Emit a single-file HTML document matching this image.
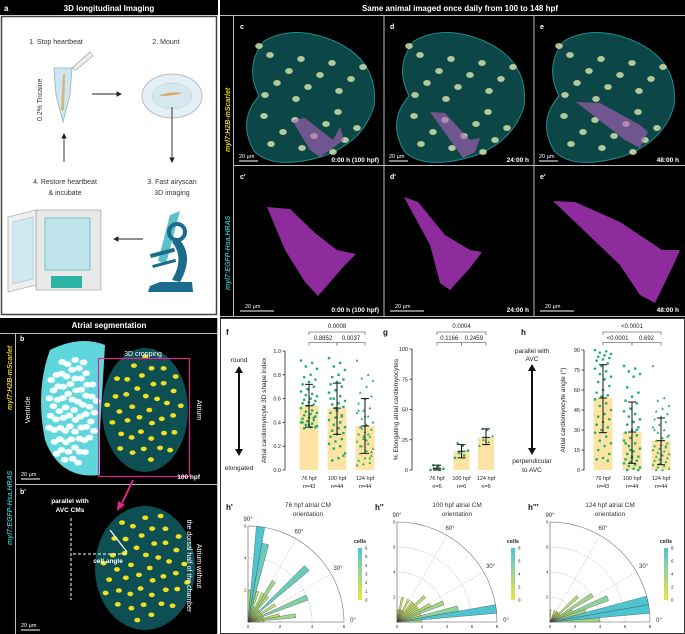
<!DOCTYPE html>
<html><head><meta charset="utf-8">
<style>
html,body{margin:0;padding:0;background:#fff;}
svg{display:block;font-family:"Liberation Sans",sans-serif;}
</style></head>
<body>
<svg id="fig" width="685" height="634" viewBox="0 0 685 634" xmlns="http://www.w3.org/2000/svg">
<rect x="0" y="0" width="685" height="634" fill="#fff"/>
<g>
<rect x="0" y="0" width="218" height="15" fill="#000"/>
<text x="4" y="11" fill="#fff" font-size="8" font-weight="bold">a</text>
<text x="109" y="11" fill="#fff" font-size="8" font-weight="bold" text-anchor="middle">3D longitudinal Imaging</text>
<rect x="1.5" y="16.5" width="215" height="298" fill="#fff" stroke="#444" stroke-width="1.5"/>
<text x="56" y="44" font-size="7" text-anchor="middle" fill="#333">1. Stop heartbeat</text>
<text x="166" y="44" font-size="7" text-anchor="middle" fill="#333">2. Mount</text>
<text x="65" y="184" font-size="7" text-anchor="middle" fill="#333">4. Restore heartbeat</text>
<text x="65" y="195" font-size="7" text-anchor="middle" fill="#333">&amp; incubate</text>
<text x="172" y="184" font-size="7" text-anchor="middle" fill="#333">3. Fast airyscan</text>
<text x="172" y="195" font-size="7" text-anchor="middle" fill="#333">3D imaging</text>
<text transform="translate(42,121) rotate(-90)" font-size="7" fill="#333">0.2% Tricaine</text>
<path d="M54,68 L72,68 L70,95 L63,122 L56,95 Z" fill="#cfe6f2" stroke="#8bb" stroke-width="0.8"/>
<path d="M72,68 L90,52 L93,56 L76,70 Z" fill="#eee" stroke="#999" stroke-width="0.6"/>
<path d="M63,74 L65,74 L64,110 L61,110 Z" fill="#d9b27a"/>
<ellipse cx="172" cy="96" rx="30" ry="22" fill="#e4eff5" stroke="#aab" stroke-width="0.8"/>
<ellipse cx="172" cy="96" rx="20" ry="13" fill="#d6e7ef" stroke="#bcc" stroke-width="0.5"/>
<path d="M160,95 Q172,91 183,93 Q172,96 160,96 Z" fill="#d9a86a"/>
<g stroke="#222" stroke-width="0.9" fill="#222">
<line x1="92" y1="94" x2="118" y2="94"/><path d="M121,94 l-4,-2 v4z"/>
<line x1="172" y1="107" x2="172" y2="159"/><path d="M172,162 l-2,-4 h4z"/>
<line x1="143" y1="239" x2="117" y2="239"/><path d="M114,239 l4,-2 v4z"/>
<line x1="64" y1="162" x2="64" y2="137"/><path d="M64,134 l-2,4 h4z"/>
</g>
<g>
<rect x="36" y="210" width="65" height="80" fill="#e8e8e8" stroke="#999" stroke-width="0.6"/>
<rect x="45" y="218" width="45" height="52" fill="#bfe3ea" stroke="#5bb" stroke-width="0.8"/>
<rect x="51" y="276" width="31" height="12" fill="#2bb3a3"/>
<path d="M8,217 L36,210 L36,285 L8,292 Z" fill="#eee" stroke="#999" stroke-width="0.6"/>
<path d="M13,222 L33,217 L33,279 L13,284 Z" fill="#cfe8f2" stroke="#9bc" stroke-width="0.5"/>
</g>
<g fill="#1b6b8c">
<path d="M170,215 L180,211 L166,264 L158,261 Z" fill="#5bc0c8"/>
<circle cx="177" cy="232" r="8" fill="none" stroke="#1b6b8c" stroke-width="4"/>
<path d="M178,238 Q195,255 180,282 L172,280 Q185,258 172,242 Z"/>
<rect x="150" y="251" width="25" height="4" transform="rotate(-15 162 253)"/>
<rect x="152" y="262" width="24" height="3" transform="rotate(-15 164 263)"/>
<path d="M160,282 L192,282 L193,292 L148,292 L150,286 Z"/>
</g>
</g>
<g>
<rect x="220" y="0" width="465" height="318" fill="#000"/>
<text x="460" y="11" fill="#fff" font-size="8" font-weight="bold" text-anchor="middle">Same animal imaged once daily from 100 to 148 hpf</text>
<g id="hearts"></g>
<line x1="220" y1="15.5" x2="685" y2="15.5" stroke="#bbb" stroke-width="1"/>
<line x1="233.5" y1="16" x2="233.5" y2="316" stroke="#bbb" stroke-width="1"/>
<line x1="384" y1="16" x2="384" y2="316" stroke="#bbb" stroke-width="1"/>
<line x1="534" y1="16" x2="534" y2="316" stroke="#bbb" stroke-width="1"/>
<line x1="234" y1="165.5" x2="685" y2="165.5" stroke="#bbb" stroke-width="1"/>
<line x1="220" y1="316.5" x2="685" y2="316.5" stroke="#bbb" stroke-width="1"/>
<text transform="translate(230,152) rotate(-90)" font-size="7" font-style="italic" font-weight="bold" fill="#e8d020">myl7:H2B-mScarlet</text>
<text transform="translate(230,290) rotate(-90)" font-size="7" font-style="italic" font-weight="bold" fill="#25b8b8">myl7:EGFP-Hsa.HRAS</text>
</g>
<g>
<rect x="0" y="318" width="218" height="316" fill="#000"/>
<text x="109" y="328" fill="#fff" font-size="8" font-weight="bold" text-anchor="middle">Atrial segmentation</text>
<line x1="0" y1="333.5" x2="218" y2="333.5" stroke="#bbb"/>
<line x1="15.5" y1="334" x2="15.5" y2="634" stroke="#bbb"/>
<line x1="16" y1="484.5" x2="218" y2="484.5" stroke="#bbb"/>
<line x1="217.5" y1="318" x2="217.5" y2="634" stroke="#bbb"/>
<text transform="translate(12,410) rotate(-90)" font-size="7" font-style="italic" font-weight="bold" fill="#e8d020">myl7:H2B-mScarlet</text>
<text transform="translate(12,545) rotate(-90)" font-size="7" font-style="italic" font-weight="bold" fill="#25b8b8">myl7:EGFP-Hsa.HRAS</text>
<path d="M50,350 Q80,335 105,345 L100,430 L100,475 Q60,480 45,440 Q35,390 50,350 Z" fill="#5fd6dc"/>
<ellipse cx="145" cy="410" rx="43" ry="62" fill="#0d4f52"/>
<g id="vdots"></g>
<g id="bdots"></g>
<rect x="98.5" y="358.5" width="91" height="118" fill="none" stroke="#e0248c" stroke-width="1.2"/>
<text x="143" y="356" fill="#fff" font-size="7" text-anchor="middle">3D cropping</text>
<text transform="translate(30,410) rotate(-90)" fill="#fff" font-size="7" text-anchor="middle">Ventricle</text>
<text transform="translate(197,410) rotate(90)" fill="#fff" font-size="7" text-anchor="middle">Atrium</text>
<text x="200" y="479" fill="#fff" font-size="6.5" font-weight="bold" text-anchor="end">100 hpf</text>
<text x="20" y="341" fill="#fff" font-size="7" font-weight="bold">b</text>
<text x="20" y="494" fill="#fff" font-size="7" font-weight="bold">b'</text>
<text x="21" y="476" fill="#fff" font-size="5.5">20 µm</text><line x1="21" y1="479" x2="40" y2="479" stroke="#fff" stroke-width="1"/>
<text x="21" y="627" fill="#fff" font-size="5.5">20 µm</text><line x1="21" y1="630" x2="40" y2="630" stroke="#fff" stroke-width="1"/>
<line x1="133" y1="480" x2="122" y2="503" stroke="#e0248c" stroke-width="2"/><path d="M117,511 l1,-10 l7,4z" fill="#e0248c"/>
<ellipse cx="145" cy="568" rx="50" ry="62" fill="#0d4f52"/>
<g id="bpdots"></g>
<text x="70" y="503" fill="#fff" font-size="6.5" font-weight="bold" text-anchor="middle">parallel with</text>
<text x="70" y="512" fill="#fff" font-size="6.5" font-weight="bold" text-anchor="middle">AVC CMs</text>
<line x1="71" y1="518" x2="71" y2="600" stroke="#fff" stroke-dasharray="3,2"/>
<line x1="73" y1="554" x2="127" y2="554" stroke="#fff" stroke-dasharray="3,2"/>
<line x1="110" y1="530" x2="127" y2="552" stroke="#fff" stroke-width="1.2"/>
<text x="108" y="563" fill="#fff" font-size="6.5" font-weight="bold" text-anchor="middle">cell angle</text>
<text transform="translate(197,566) rotate(90)" fill="#fff" font-size="7" text-anchor="middle">Atrium without</text>
<text transform="translate(187,566) rotate(90)" fill="#fff" font-size="7" text-anchor="middle">the dorsal half of the chamber</text>
</g>
<g>
<rect x="220.5" y="318.5" width="464" height="315" fill="#fff" stroke="#333" stroke-width="1"/>
<g id="charts"></g>
</g>
</svg>
<script>
const groups = ["76 hpf","100 hpf","124 hpf"];
const nLabelsF = ["n=43","n=44","n=44"];
const nLabelsG = ["n=6","n=6","n=6"];
const fMeans = [0.54,0.52,0.37];
const fSdHi = [0.72,0.73,0.60];
const fSdLo = [0.36,0.30,0.14];
const f76 = [0.92,0.9,0.87,0.85,0.8,0.78,0.76,0.74,0.72,0.7,0.68,0.66,0.64,0.63,0.62,0.6,0.59,0.58,0.57,0.56,0.55,0.54,0.52,0.5,0.49,0.48,0.47,0.46,0.45,0.44,0.43,0.42,0.41,0.4,0.39,0.38,0.37,0.36,0.35,0.36,0.38,0.4,0.44];
const f100 = [0.94,0.9,0.87,0.84,0.8,0.78,0.76,0.74,0.72,0.7,0.67,0.65,0.62,0.6,0.58,0.56,0.55,0.53,0.5,0.48,0.46,0.44,0.42,0.4,0.38,0.36,0.35,0.33,0.31,0.3,0.28,0.26,0.24,0.22,0.2,0.18,0.14,0.1,0.08,0.12,0.5,0.6,0.45,0.52];
const f124 = [0.92,0.8,0.77,0.75,0.7,0.65,0.62,0.6,0.56,0.52,0.5,0.48,0.45,0.43,0.4,0.38,0.36,0.34,0.32,0.3,0.28,0.26,0.24,0.22,0.2,0.18,0.16,0.14,0.12,0.1,0.08,0.06,0.05,0.04,0.3,0.35,0.4,0.25,0.2,0.15,0.45,0.5,0.1,0.28];
const gMeans = [1.5,15.5,27];
const gSdHi = [4,21,34];
const gSdLo = [0,10,21];
const g76 = [0,0,1,1,3,4];
const g100 = [10,12,14,16,20,22];
const g124 = [20,23,25,28,33,34];
const hMeans = [54,28.5,22];
const hSdHi = [79,51,39];
const hSdLo = [28,5,4];
const h76 = [90,89,88,87,86,85,84,83,82,80,78,76,74,72,70,68,66,63,60,58,56,55,53,50,48,45,42,40,38,36,34,32,30,28,25,22,20,18,15,12,9,8,7];
const h100 = [78,76,74,72,70,62,58,55,52,50,46,44,42,40,38,36,34,32,30,28,26,24,22,20,18,16,14,12,10,9,8,7,6,5,4,3,2,1,0,0,10,20,30,15];
const h124 = [78,54,52,48,46,44,42,40,38,36,34,32,30,28,26,24,22,20,19,18,17,16,15,14,13,12,11,10,9,8,7,6,5,4,3,2,1,0,0,25,12,30,18,8];
const fTicks = [0,0.2,0.4,0.6,0.8,1.0];
const fTickLabels = ["0.0","0.2","0.4","0.6","0.8","1.0"];
const gTicks = [0,25,50,75,100];
const hTicks = [0,15,30,45,60,75,90];
const fPvals = ["0.0008","0.8852","0.0037"];
const gPvals = ["0.0004","0.1166","0.2459"];
const hPvals = ["<0.0001","<0.0001","0.692"];
const polarTitles = ["76 hpf atrial CM","100 hpf atrial CM","124 hpf atrial CM"];
const polarLabels = ["h'","h''","h'''"];
const p76 = [1,3,2,1,4,1,2,1,5,1,2,3,2,1,2,5,6,2];
const p100 = [2,8,5,2,4,3,2,2,3,2,2,1,2,1,1,2,1,1];
const p124 = [4,8,8,3,5,2,4,1,3,1,1,1,0,1,0,0,0,1];
const polarMax = [6,8,8];
const polarCbarTicks = [[0,1,2,3,4,5,6],[0,2,4,6,8],[0,2,4,6,8]];

const NS="http://www.w3.org/2000/svg";
function mk(tag,attrs,parent,text){const e=document.createElementNS(NS,tag);for(const k in attrs)e.setAttribute(k,attrs[k]);if(text!==undefined)e.textContent=text;parent.appendChild(e);return e;}
const root=document.getElementById('charts');

function barChart(cfg){
  const g=mk('g',{},root);
  
  
  const y=v=>cfg.y0-(v-cfg.min)/(cfg.max-cfg.min)*(cfg.y0-cfg.y1);
  const xc=i=>cfg.x0+cfg.first+i*cfg.step;
  const ax=mk('line',{x1:cfg.x0,y1:cfg.y1,x2:cfg.x0,y2:cfg.y0,stroke:'#222','stroke-width':0.8},g);
  
  
  cfg.ticks.forEach((t,i)=>{
    mk('line',{x1:cfg.x0-2.5,x2:cfg.x0,y1:y(t),y2:y(t),stroke:'#222','stroke-width':0.8},g);
    const tl=mk('text',{x:cfg.x0-4,y:y(t)+2,'font-size':5.5,'text-anchor':'end',fill:'#222'},g,cfg.tickLabels?cfg.tickLabels[i]:String(t));
    
    
  });
  const yt=mk('text',{transform:`translate(${cfg.titleX},${(cfg.y0+cfg.y1)/2}) rotate(-90)`,'font-size':6.5,'text-anchor':'middle',fill:'#222'},g,cfg.title);
  
  
  cfg.means.forEach((m,i)=>{
    const b=mk('rect',{x:xc(i)-cfg.bw/2,y:y(m),width:cfg.bw,height:cfg.y0-y(m),fill:'#fde4a2'},g);
    
    
    const xl=mk('text',{x:xc(i),y:cfg.y0+10,'font-size':5.5,'text-anchor':'middle',fill:'#222'},g,groups[i]);
    
    
    mk('text',{x:xc(i),y:cfg.y0+18,'font-size':5.5,'text-anchor':'middle',fill:'#222'},g,cfg.nlabels[i]);
  });
  cfg.points.forEach((arr,i)=>{
    arr.forEach((v,k)=>{
      const dx=((k*7)%11-5)/5*(cfg.bw/2-1.5);
      const px=xc(i)+dx,py=y(v);
      let p;
      if(i===0)p=mk('circle',{cx:px,cy:py,r:1.3,fill:'#1fae6e'},g);
      else if(i===1)p=mk('rect',{x:px-1.2,y:py-1.2,width:2.4,height:2.4,fill:'#1fae6e'},g);
      else p=mk('path',{d:`M${px},${py-1.5} l1.4,2.6 h-2.8z`,fill:'#1fae6e'},g);
      
      
    });
  });
  cfg.means.forEach((m,i)=>{
    const e=mk('g',{stroke:'#111','stroke-width':1},g);
    
    
    mk('line',{x1:xc(i),x2:xc(i),y1:y(cfg.hi[i]),y2:y(cfg.lo[i])},e);
    mk('line',{x1:xc(i)-4,x2:xc(i)+4,y1:y(cfg.hi[i]),y2:y(cfg.hi[i])},e);
    mk('line',{x1:xc(i)-4,x2:xc(i)+4,y1:y(cfg.lo[i]),y2:y(cfg.lo[i])},e);
    mk('line',{x1:xc(i)-4,x2:xc(i)+4,y1:y(m),y2:y(m)},e);
  });
  const s=mk('g',{stroke:'#777','stroke-width':0.8,fill:'none'},g);
  
  
  const br=(a,b,yy)=>mk('path',{d:`M${xc(a)},${yy+3} V${yy} H${xc(b)} V${yy+3}`},s);
  br(0,2,332); br(0,1,342.5); br(1,2,342.5);
  mk('text',{x:(xc(0)+xc(2))/2,y:328,'font-size':6,'text-anchor':'middle',fill:'#222'},g,cfg.p[0]);
  mk('text',{x:(xc(0)+xc(1))/2,y:340,'font-size':6,'text-anchor':'middle',fill:'#222'},g,cfg.p[1]);
  mk('text',{x:(xc(1)+xc(2))/2,y:340,'font-size':6,'text-anchor':'middle',fill:'#222'},g,cfg.p[2]);
  mk('text',{x:cfg.label[1],y:335,'font-size':8,'font-weight':'bold',fill:'#111'},g,cfg.label[0]);
}
barChart({name:'chart-f',x0:285,y0:470,y1:351,min:0,max:1,first:24,step:28,bw:19,ticks:fTicks,tickLabels:fTickLabels,title:'Atrial cardiomyocyte 3D shape index',titleX:266,means:fMeans,hi:fSdHi,lo:fSdLo,points:[f76,f100,f124],nlabels:nLabelsF,p:fPvals,label:['f',226]});
barChart({name:'chart-g',x0:412,y0:470,y1:349,min:0,max:100,first:25,step:24.5,bw:16,ticks:gTicks,title:'% Elongating atrial cardiomyocytes',titleX:398,means:gMeans,hi:gSdHi,lo:gSdLo,points:[g76,g100,g124],nlabels:nLabelsG,p:gPvals,label:['g',383]});
barChart({name:'chart-h',x0:584,y0:470,y1:350,min:0,max:90,first:19,step:29,bw:19,ticks:hTicks,title:'Atrial cardiomyocyte angle (°)',titleX:565,means:hMeans,hi:hSdHi,lo:hSdLo,points:[h76,h100,h124],nlabels:nLabelsF,p:hPvals,label:['h',521]});

function dblArrow(x,y1,y2,name){
  const a=mk('g',{fill:'#111',stroke:'#111'},root);
  
  
  mk('line',{x1:x,x2:x,y1:y1+5,y2:y2-5,'stroke-width':2},a);
  mk('path',{d:`M${x},${y1} l-4,7 h8z`,stroke:'none'},a);
  mk('path',{d:`M${x},${y2} l-4,-7 h8z`,stroke:'none'},a);
}
dblArrow(239,366,456,'shape-arrow');
mk('text',{x:239,y:362,'font-size':6.5,'text-anchor':'middle',fill:'#222'},root,'round');
mk('text',{x:239,y:470,'font-size':6.5,'text-anchor':'middle',fill:'#222'},root,'elongated');
dblArrow(532,364,455,'angle-arrow');
mk('text',{x:532,y:353,'font-size':6.5,'text-anchor':'middle',fill:'#222'},root,'parallel with');
mk('text',{x:532,y:361,'font-size':6.5,'text-anchor':'middle',fill:'#222'},root,'AVC');
mk('text',{x:532,y:463,'font-size':6.5,'text-anchor':'middle',fill:'#222'},root,'perpendicular');
mk('text',{x:532,y:472,'font-size':6.5,'text-anchor':'middle',fill:'#222'},root,'to AVC');

function col(t){const a=[232,232,58],b=[160,214,140],c=[78,196,208];let r;
 if(t<0.5){const u=t/0.5;r=a.map((v,i)=>v+(b[i]-v)*u);}else{const u=(t-0.5)/0.5;r=b.map((v,i)=>v+(c[i]-v)*u);}
 return `rgb(${r.map(Math.round).join(',')})`;}
function polar(ox,oy,R,counts,max,k){
  const g=mk('g',{},root);
  
  
  const sc=R/max;
  const P=(r,deg)=>[ox+r*Math.cos(deg*Math.PI/180),oy-r*Math.sin(deg*Math.PI/180)];
  for(let v=2;v<max;v+=2){const [x1,y1]=P(v*sc,0),[x2,y2]=P(v*sc,90);
    mk('path',{d:`M${x1},${y1} A${v*sc},${v*sc} 0 0 0 ${x2},${y2}`,fill:'none',stroke:'#999','stroke-width':0.5,'stroke-dasharray':'1.5,1.5'},g);}
  [30,60].forEach(d=>{const [x,y]=P(R,d);mk('line',{x1:ox,y1:oy,x2:x,y2:y,stroke:'#aaa','stroke-width':0.5,'stroke-dasharray':'1.5,1.5'},g);});
  const [ex,ey]=P(R,0),[tx,ty]=P(R,90);
  mk('path',{d:`M${ex},${ey} A${R},${R} 0 0 0 ${tx},${ty}`,fill:'none',stroke:'#888','stroke-width':0.7},g);
  mk('line',{x1:ox,y1:oy,x2:ex,y2:ey,stroke:'#555','stroke-width':0.6},g);
  mk('line',{x1:ox,y1:oy,x2:tx,y2:ty,stroke:'#555','stroke-width':0.6},g);
  for(let v=0;v<=max;v+=2){mk('text',{x:ox+v*sc,y:oy+6,'font-size':4.5,'text-anchor':'middle',fill:'#333'},g,String(v));
    if(v>0)mk('text',{x:ox-1.5,y:oy-v*sc+1.5,'font-size':4.5,'text-anchor':'end',fill:'#333'},g,String(v));}
  counts.forEach((c,i)=>{ if(!c)return;
    const r=c*sc,[x1,y1]=P(r,i*5),[x2,y2]=P(r,i*5+5);
    const w=mk('path',{d:`M${ox},${oy} L${x1},${y1} A${r},${r} 0 0 0 ${x2},${y2} Z`,fill:col(c/max),stroke:'#333','stroke-width':0.3},g);
    
    
  });
  const lab=(d,t,off)=>{const [x,y]=P(R+off,d);mk('text',{x:x,y:y,'font-size':6,'text-anchor':'middle',fill:'#333'},g,t);};
  lab(90,'90°',5);lab(60,'60°',6);lab(30,'30°',8);lab(0,'0°',9);
  const cx=ox+R+14,cy1=oy-74,cy2=oy-22;
  const gid='cb'+k;const defs=mk('defs',{},g);const lg=mk('linearGradient',{id:gid,x1:0,y1:1,x2:0,y2:0},defs);
  mk('stop',{offset:'0','stop-color':col(0)},lg);mk('stop',{offset:'0.5','stop-color':col(0.5)},lg);mk('stop',{offset:'1','stop-color':col(1)},lg);
  const cb=mk('rect',{x:cx,y:cy1,width:4,height:cy2-cy1,fill:`url(#${gid})`},g);
  
  
  mk('text',{x:cx+2,y:cy1-5,'font-size':5.5,'font-weight':'bold','text-anchor':'middle',fill:'#222'},g,'cells');
  polarCbarTicks[k].forEach(t=>mk('text',{x:cx+7,y:cy2-(t/max)*(cy2-cy1)+1.5,'font-size':4.5,fill:'#222'},g,String(t)));
  mk('text',{x:ox+60,y:507,'font-size':6.5,'text-anchor':'middle',fill:'#333'},g,polarTitles[k]);
  mk('text',{x:ox+60,y:516,'font-size':6.5,'text-anchor':'middle',fill:'#333'},g,'orientation');
  mk('text',{x:ox-22,y:510,'font-size':8,'font-weight':'bold',fill:'#111'},g,polarLabels[k]);
}
polar(248,622,96,p76,polarMax[0],0);
polar(397,622,100,p100,polarMax[1],1);
polar(550,622,100,p124,polarMax[2],2);

const hearts=document.getElementById('hearts');
const cells=[[234,16,'c',"0:00 h (100 hpf)"],[384,16,'d',"24:00 h"],[534,16,'e',"48:00 h"]];
const mag=["M292,120 L305,118 L333,140 L340,127 L344,140 L320,157 L310,150 Z","M430,112 L445,113 L470,140 L480,138 L475,152 L463,158 Z","M576,102 L600,103 L640,125 L648,132 L640,148 L625,140 Z"];
const mag2=["M267,207 L290,209 L315,233 L337,250 L356,254 L345,265 L318,296 L305,282 L285,250 Z","M404,197 L418,202 L445,235 L470,250 L482,252 L470,268 L450,290 L440,283 L430,245 Z","M553,201 L575,202 L620,222 L662,250 L680,250 L672,268 L655,303 L640,295 L620,265 Z"];
cells.forEach((c,i)=>{
  const [x,y,l,t]=c;
  const g=mk('g',{},hearts);
  
  
  mk('path',{d:`M${x+30},${y+25} Q${x+60},${y+8} ${x+100},${y+25} Q${x+145},${y+45} ${x+140},${y+90} Q${x+130},${y+125} ${x+90},${y+140} Q${x+40},${y+155} ${x+20},${y+135} Q${x+3},${y+105} ${x+25},${y+80} Q${x+10},${y+50} ${x+30},${y+25} Z`,fill:'#0d4646',stroke:'#1e8c8c','stroke-width':1},g);
  for(let k=0;k<24;k++){const px=x+25+((k*37)%105),py=y+30+((k*53)%110);
    mk('ellipse',{cx:px,cy:py,rx:3.8,ry:3,fill:'#dcebb0',opacity:0.8},g);}
  mk('path',{d:mag[i],fill:'#b060c0',opacity:0.6},g);
  mk('path',{d:mag2[i],fill:'#8e2c9e'},g);
  mk('text',{x:x+6,y:y+13,'font-size':7,'font-weight':'bold',fill:'#fff'},g,l);
  mk('text',{x:x+6,y:y+163,'font-size':7,'font-weight':'bold',fill:'#fff'},g,l+"'");
  mk('text',{x:x+145,y:y+146,'font-size':6.5,'font-weight':'bold','text-anchor':'end',fill:'#fff'},g,t);
  mk('text',{x:x+145,y:y+296,'font-size':6.5,'font-weight':'bold','text-anchor':'end',fill:'#fff'},g,t);
  mk('text',{x:x+5,y:y+142,'font-size':5.5,fill:'#fff'},g,'20 µm');
  mk('line',{x1:x+5,x2:x+24,y1:y+145,y2:y+145,stroke:'#fff','stroke-width':1},g);
  mk('text',{x:x+11,y:y+292,'font-size':5.5,fill:'#fff'},g,'20 µm');
  mk('line',{x1:x+6,x2:x+40,y1:y+295,y2:y+295,stroke:'#fff','stroke-width':1},g);
});
function dots(id,cx,cy,rx,ry,n,fill,s){const g=document.getElementById(id);
  for(let k=0;k<n;k++){const a=k*2.4,r=Math.sqrt((k+0.5)/n);
    mk('ellipse',{cx:cx+Math.cos(a)*r*rx*0.9,cy:cy+Math.sin(a)*r*ry*0.9,rx:3*s,ry:2.3*s,fill:fill},g);}}
dots('vdots',72,410,28,62,70,'#f4ffff',1.3);
dots('bdots',145,410,43,62,40,'#f0e020',1);
dots('bpdots',145,568,50,62,45,'#f0e020',1);
</script>
</body></html>
